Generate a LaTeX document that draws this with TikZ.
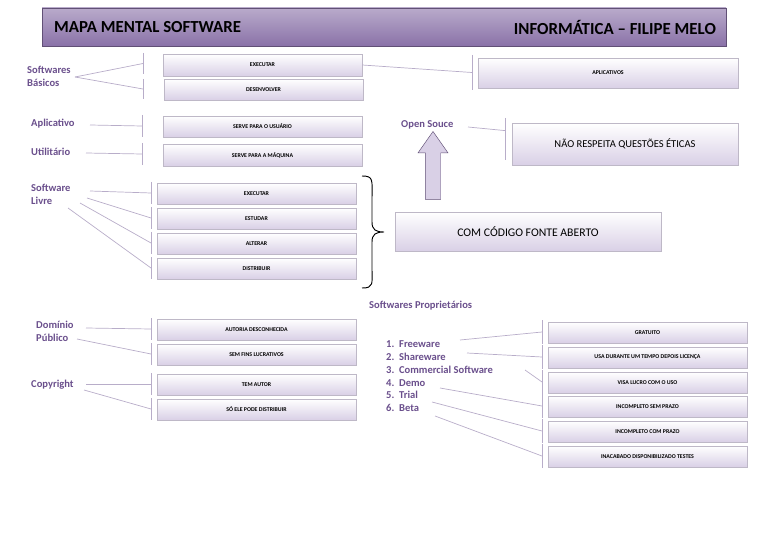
\documentclass[tikz,border=0pt]{standalone}
\usepackage{fontspec}
\setmainfont{Carlito}
\usetikzlibrary{shapes.arrows}
\definecolor{lila}{HTML}{8A72A8}
\definecolor{lilatxt}{HTML}{6A4F8C}
\definecolor{lilalt}{HTML}{F4F1F8}
\definecolor{lilabox}{HTML}{D9D0E6}
\definecolor{linha}{HTML}{B8ADC9}
\begin{document}
\begin{tikzpicture}[x=0.03cm,y=-0.03cm,
  box/.style={draw=lilabox!70!gray,top color=white,bottom color=lilabox,font=\bfseries\tiny,inner sep=0pt},
  lbl/.style={text=lilatxt,font=\bfseries\small,align=left,anchor=west,inner sep=0pt},
  ln/.style={draw=linha,semithick},
  tick/.style={draw=linha,thick}]
\useasboundingbox (0,0) rectangle (768,543);
% title
\node[draw=lila!70!black,top color=lila!60!white,bottom color=lila,minimum width=684*0.03cm,minimum height=38*0.03cm,inner sep=0pt] (title) at (384,27) {};
\node[font=\bfseries\Large,anchor=west] at (50,27) {MAPA MENTAL SOFTWARE};
\node[font=\bfseries\Large,anchor=east] at (720,27) {INFORMÁTICA – FILIPE MELO};
% box macro via style sizes
\newcommand\bx[6]{\node[box,minimum width={(#3-#2)*0.03cm},minimum height={(#5-#4)*0.03cm}] (#1) at ({(#2+#3)/2},{(#4+#5)/2}) {#6};}
% Softwares básicos
\bx{exe1}{163}{362}{54}{76}{EXECUTAR}
\bx{des}{164}{363}{79}{100}{DESENVOLVER}
\bx{apl}{478}{738}{58}{88}{APLICATIVOS}
\node[lbl] (sb) at (27,76) {Softwares\\Básicos};
\coordinate (sbe) at (75,77);
\draw[tick] (143,53) -- (143,74) coordinate[midway] (t1);
\draw[tick] (143,79) -- (143,99) coordinate[midway] (t2);
\draw[ln] (sbe) -- (t1); \draw[ln] (sbe) -- (t2);
\draw[tick] (472,55) -- (472,90) coordinate[midway] (t3);
\draw[ln] (exe1.east) -- (t3);
% aplicativo / utilitario
\bx{usu}{163}{362}{116}{137}{SERVE PARA O USUÁRIO}
\bx{maq}{163}{362}{144}{166}{SERVE PARA A MÁQUINA}
\node[lbl] (ap) at (31,124) {Aplicativo};
\node[lbl] (ut) at (31,152) {Utilitário};
\draw[tick] (142,115) -- (142,137) coordinate[midway] (t4);
\draw[tick] (142,143) -- (142,165) coordinate[midway] (t5);
\draw[ln] (90,125) -- (t4); \draw[ln] (86,153) -- (t5);
% software livre
\bx{exe2}{157}{356}{183}{204}{EXECUTAR}
\bx{est}{157}{356}{208}{229}{ESTUDAR}
\bx{alt}{157}{356}{233}{254}{ALTERAR}
\bx{dis}{157}{356}{258}{279}{DISTRIBUIR}
\node[lbl] (sl) at (31,194) {Software\\Livre};
\foreach \n/\y in {a/193,b/218,c/243,d/268}{
  \draw[tick] (151,\y-11) -- (151,\y+11) coordinate[midway] (tl\n);}
\draw[ln] (90,191) -- (tla);
\draw[ln] (87,198) -- (tlb);
\draw[ln] (80,203) -- (tlc);
\draw[ln] (68,208) -- (tld);
\draw[thick] (362,176) .. controls (374,176) and (372,180) .. (372,200) -- (372,222) .. controls (372,230) and (376,232) .. (384,232)
  .. controls (376,232) and (372,234) .. (372,242) -- (372,268) .. controls (372,284) and (374,288) .. (362,288);
\bx{cod}{395}{661}{212}{251}{\normalsize\mdseries COM CÓDIGO FONTE ABERTO}
\node[single arrow,draw=lila!70!black,fill=lilabox,shape border rotate=90,minimum height=68*0.03cm,minimum width=30*0.03cm,single arrow head extend=3pt,single arrow tip angle=70,inner sep=3pt] (arr) at (433,171) {};
\node[lbl] (os) at (401,125) {Open Souce};
\bx{nao}{512}{738}{123}{165}{\small\mdseries NÃO RESPEITA QUESTÕES ÉTICAS}
\draw[tick] (505,118) -- (505,160) coordinate[pos=0.3] (t6);
\draw[ln] (468,127) -- (t6);
% dominio / copyright
\bx{aut}{157}{356}{319}{340}{AUTORIA DESCONHECIDA}
\bx{sfl}{157}{356}{344}{365}{SEM FINS LUCRATIVOS}
\bx{tem}{157}{356}{374}{395}{TEM AUTOR}
\bx{soe}{157}{356}{399}{420}{SÓ ELE PODE DISTRIBUIR}
\node[lbl] (dp) at (36,331) {Domínio\\Público};
\node[lbl] (cp) at (31,385) {Copyright};
\foreach \n/\y in {a/329,b/354,c/384,d/409}{
  \draw[tick] (151,\y-11) -- (151,\y+11) coordinate[midway] (td\n);}
\draw[ln] (86,328) -- (tda); \draw[ln] (77,339) -- (tdb);
\draw[ln] (86,384) -- (tdc); \draw[ln] (84,390) -- (tdd);
% proprietarios
\node[lbl] (sp) at (369,306) {Softwares Proprietários};
\node[lbl,align=left,font=\bfseries\small,text=lilatxt] (lst) at (386,377) {%
  \begin{tabular}{@{}l@{\ \ }l@{}}1.&Freeware\\2.&Shareware\\3.&Commercial Software\\4.&Demo\\5.&Trial\\6.&Beta\end{tabular}};
\bx{p1}{548}{747}{322}{343}{GRATUITO}
\bx{p2}{548}{747}{347}{368}{USA DURANTE UM TEMPO DEPOIS LICENÇA}
\bx{p3}{548}{747}{372}{393}{VISA LUCRO COM O USO}
\bx{p4}{548}{747}{396}{417}{INCOMPLETO SEM PRAZO}
\bx{p5}{548}{747}{421}{442}{INCOMPLETO COM PRAZO}
\bx{p6}{548}{747}{446}{467}{INACABADO DISPONIBILIZADO TESTES}
\foreach \n/\y in {1/332,2/357,3/382,4/406,5/431,6/456}{
  \draw[tick] (542,\y-12) -- (542,\y+12) coordinate[midway] (tp\n);}
\draw[ln] (460,340) -- (tp1);
\draw[ln] (467,353) -- (tp2);
\draw[ln] (525,370) -- (tp3);
\draw[ln] (440,388) -- (tp4);
\draw[ln] (432,402) -- (tp5);
\draw[ln] (435,416) -- (tp6);
\end{tikzpicture}
\end{document}
